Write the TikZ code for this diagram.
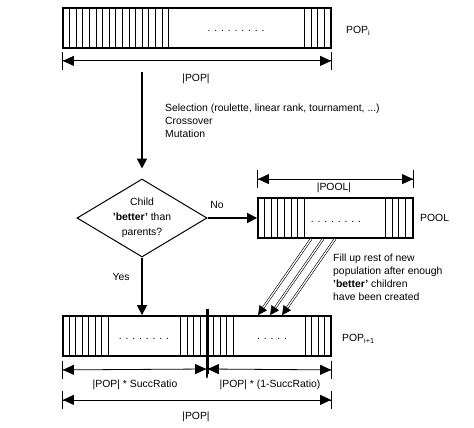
\documentclass[tikz,border=0pt]{standalone}
\usepackage{fontspec}
\setmainfont{Liberation Sans}
\usetikzlibrary{arrows.meta,shapes.geometric}

\tikzstyle{chrom}=[draw,line width=1.8pt,inner sep=0pt,minimum height=40pt]
\tikzstyle{stripe}=[draw,line width=0.8pt]
\tikzstyle{label}=[inner sep=0pt,font=\fontsize{10.4}{12.8}\selectfont]
\tikzstyle{flow}=[draw,line width=1.5pt,-{Triangle[length=10pt,width=10pt]}]
\tikzstyle{fill shaft}=[draw,double,double distance=1.2pt,line width=0.6pt,shorten >=7pt]
\tikzstyle{fill tip}=[draw,line width=0.6pt,shorten <=84pt,-{Triangle[length=9pt,width=9pt]}]
\tikzstyle{dim}=[draw,line width=0.8pt,{Bar[width=18pt]Triangle[length=11pt,width=10pt]}-{Triangle[length=11pt,width=10pt]Bar[width=18pt]}]
\tikzstyle{test}=[diamond,draw,line width=1pt,aspect=1.67,inner sep=0pt,minimum width=130pt,minimum height=78pt,align=center,font=\fontsize{10.4}{15}\selectfont]

\begin{document}
\begin{tikzpicture}[x=1pt,y=-1pt]
	\useasboundingbox (0,0) rectangle (474,428);
	% the old population
	\node[chrom,minimum width=268pt] (pop) at (197,28) {};
	\foreach \k in {0,...,15}
		\path[stripe] (69.6+6.6*\k,8) -- ++(0,40);
	\foreach \k in {0,...,3}
		\path[stripe] (304.5+6.6*\k,8) -- ++(0,40);
	\node[label] (popdots) at (236,31) {. . . . . . . . .};
	\node[label,anchor=west] (popi) at (346,31) {POP\textsubscript{i}};
	\path[dim] ([yshift=-12pt]pop.south west) -- ([yshift=-12pt]pop.south east);
	\node[label] (popsize) at (196,79) {|POP|};

	% genetic operators
	\coordinate (src) at (142,72);
	\node[label,anchor=north west,align=left] (ops) at (165,104) {Selection (roulette, linear rank, tournament, ...)\\Crossover\\Mutation};
	\node[test] (better) at (142,218) {Child\\\textbf{'better'} than\\parents?};
	\path[flow] (src) -- ([yshift=10pt]better.north);

	% the pool of children
	\node[chrom,minimum width=155pt] (pool) at (335.5,218) {};
	\foreach \k in {0,...,6}
		\path[stripe] (264.5+6.6*\k,198) -- ++(0,40);
	\foreach \k in {0,...,3}
		\path[stripe] (385.5+6.6*\k,198) -- ++(0,40);
	\node[label] (pooldots) at (336,222) {. . . . . . . .};
	\node[label,anchor=west] (poolname) at (420,218) {POOL};
	\path[dim] ([yshift=18pt]pool.north west) -- ([yshift=18pt]pool.north east);
	\node[label] (poolsize) at (334,188) {|POOL|};
	\path[flow] (better.east) -- (pool.west);
	\node[label] (no) at (217,205) {No};

	% the new population
	\node[chrom,minimum width=268pt] (popn) at (197,336) {};
	\foreach \x in {69,75.5,82,88.5,95,101.5,108,180.5,187,193.5,200,213.5,220,226.5,233,305,311.5,318,324.5}
		\path[stripe] (\x,316) -- ++(0,40);
	\draw[line width=3pt] (207,309) -- (207,374);
	\node[label] (ndots1) at (144,339) {. . . . . . . .};
	\node[label] (ndots2) at (272,339) {. . . . .};
	\node[label,anchor=west] (popnext) at (342,339) {POP\textsubscript{i+1}};
	\path[flow] (better.south) -- (better.south |- popn.north);
	\node[label] (yes) at (121,277) {Yes};
	\foreach \a/\b in {54/196,66/208,78/220}{
		\path[fill shaft] ([xshift=\a pt]pool.south west) -- ([xshift=\b pt]popn.north west);
		\path[fill tip] ([xshift=\a pt]pool.south west) -- ([xshift=\b pt]popn.north west);
	}
	\node[label,anchor=north west,align=left] (fillup) at (333,254) {Fill up rest of new\\population after enough\\\textbf{'better'} children\\have been created};

	% sizes of the new population
	\coordinate (cut) at (207,369);
	\path[dim] ([yshift=-13pt]popn.south west) -- (cut);
	\path[dim] (cut) -- ([yshift=-13pt]popn.south east);
	\node[label] (succ) at (135,385) {|POP| * SuccRatio};
	\node[label] (fail) at (270,385) {|POP| * (1-SuccRatio)};
	\path[dim] ([yshift=-43pt]popn.south west) -- ([yshift=-43pt]popn.south east);
	\node[label] (popsize2) at (196,417) {|POP|};
\end{tikzpicture}
\end{document}
